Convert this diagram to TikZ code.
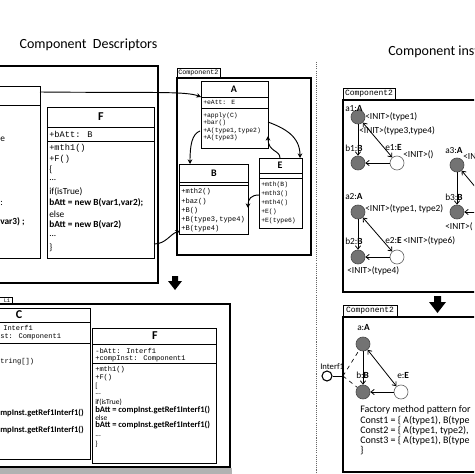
\documentclass[tikz,border=0pt]{standalone}
\usepackage{fontspec}
\setmainfont{Carlito}
\newfontfamily\cmono{Liberation Mono}
\usetikzlibrary{arrows.meta}
\tikzset{
  frame/.style={draw, line width=1pt},
  cbox/.style={draw, line width=0.7pt},
  csep/.style={line width=0.6pt},
  txt/.style={anchor=west, inner sep=0pt},
  monos/.style={txt, font=\cmono\fontsize{4.8}{5}\selectfont},
  monom/.style={txt, font=\cmono\fontsize{5.3}{6}\selectfont},
  monol/.style={txt, font=\cmono\fontsize{6.5}{7}\selectfont},
  tabtxt/.style={inner sep=0pt, font=\cmono\fontsize{5}{5}\selectfont},
  code/.style={txt, font=\fontsize{7}{8}\selectfont},
  codeb/.style={txt, font=\bfseries\fontsize{7}{8}\selectfont},
  codes/.style={txt, font=\fontsize{5.6}{6}\selectfont},
  codesb/.style={txt, font=\bfseries\fontsize{6.4}{7}\selectfont},
  cname/.style={inner sep=0pt, font=\bfseries\fontsize{9}{10}\selectfont},
  cnames/.style={inner sep=0pt, font=\bfseries\fontsize{7.5}{8}\selectfont},
  lab/.style={txt, font=\fontsize{7}{8}\selectfont},
  uarr/.style={line width=0.7pt, -{Stealth[length=3.5pt,width=3.5pt]}},
  garr/.style={line width=0.6pt, -{Straight Barb[length=2.5pt,width=4pt]}},
  gdarr/.style={line width=0.6pt, {Straight Barb[length=2.5pt,width=4pt]}-{Straight Barb[length=2.5pt,width=4pt]}},
  gcirc/.style={circle, draw=black!70, line width=0.5pt, fill=black!55, minimum size=10.5pt, inner sep=0pt},
  wcirc/.style={circle, draw=black!60, line width=0.5pt, fill=white, minimum size=10.5pt, inner sep=0pt},
  blockarr/.style={fill=black},
}
\begin{document}
\begin{tikzpicture}[x=0.75pt,y=-0.75pt]
\useasboundingbox (0,0) rectangle (474,474);
\clip (0,0) rectangle (474,474);
\fill[white] (0,0) rectangle (474,474);

% titles
\node[inner sep=0pt, font=\fontsize{10.5}{12}\selectfont] (t1) at (88.5,45) {Component\ \ Descriptors};
\node[txt, font=\fontsize{10.5}{12}\selectfont] (t2) at (388,52) {Component instances};

% separator
\draw[line width=0.7pt, black!60, dash pattern=on 0.8pt off 0.8pt] (316,62) -- (316,474);

% ================= top-left =================
\draw[frame] (-10,66) rectangle (158,283);
% class C (cut)
\draw[cbox] (-10,86) rectangle (40,258);
\draw[csep] (-10,105) -- (40,105);
\node[code] (c1) at (0,139) {e};
\node[code] (c2) at (0,203) {:};
\node[codeb] (c3) at (0,222) {var3) ;};
% class F
\draw[cbox] (47,107) rectangle (154,258);
\draw[csep] (47,127) -- (154,127);
\draw[csep] (47,141) -- (154,141);
\node[cname] (Fn) at (101,117) {F};
\node[monol] (f1) at (49,134) {+bAtt: B};
\node[monol] (f2) at (49,148) {+mth1()};
\node[monol] (f3) at (49,159) {+F()};
\node[code] (f4) at (49,170) {\{};
\node[code] (f5) at (49,180) {...};
\node[code] (f6) at (49,192) {if(isTrue)};
\node[codeb] (f7) at (49,203) {bAtt = new B(var1,var2);};
\node[code] (f8) at (49,214) {else};
\node[codeb] (f9) at (49,225) {bAtt = new B(var2)};
\node[code] (f10) at (49,236) {...};
\node[code] (f11) at (49,248) {\}};

% ================= top-middle Component2 =================
\draw[cbox] (177,68) rectangle (220,78);
\node[tabtxt] (tab1) at (198.5,73) {Component2};
\draw[frame] (177,78) rectangle (311,255);
% A
\draw[cbox] (201,81) rectangle (268,148);
\draw[csep] (201,97) -- (268,97);
\draw[csep] (201,108) -- (268,108);
\node[cnames] (An) at (234,89) {A};
\node[monos] (a1t) at (203,102) {+eAtt: E};
\node[monos] (a2t) at (203,116) {+apply(C)};
\node[monos] (a3t) at (203,123) {+bar()};
\node[monos] (a4t) at (203,131) {+A(type1,type2)};
\node[monos] (a5t) at (203,138) {+A(type3)};
% B
\draw[cbox] (179,164) rectangle (248,234);
\draw[csep] (179,182) -- (248,182);
\draw[csep] (179,185) -- (248,185);
\node[cnames] (Bn) at (214,173) {B};
\node[monom] (b1t) at (181,192) {+mth2()};
\node[monom] (b2t) at (181,202) {+baz()};
\node[monom] (b3t) at (181,211) {+B()};
\node[monom] (b4t) at (181,220) {+B(type3,type4)};
\node[monom] (b5t) at (181,229) {+B(type4)};
% E
\draw[cbox] (259,158) rectangle (302,228);
\draw[csep] (259,173) -- (302,173);
\draw[csep] (259,178) -- (302,178);
\node[cnames] (En) at (280,165) {E};
\node[monos] (e1t) at (261,185) {+mth(B)};
\node[monos] (e2t) at (261,194) {+mth3()};
\node[monos] (e3t) at (261,203) {+mth4()};
\node[monos] (e4t) at (261,212) {+E()};
\node[monos] (e5t) at (261,221) {+E(type6)};

% connectors
\coordinate (pC) at (40,92);
\coordinate (pAin) at (201,97);
\coordinate (pAl) at (200,131);
\coordinate (pBt) at (190,164);
\coordinate (pAr) at (268,122);
\coordinate (pEt) at (300,158);
\coordinate (pEt2) at (280,158);
\coordinate (pAr2) at (268,136);
\coordinate (pEl) at (259,195);
\coordinate (pBr) at (248,208);
\coordinate (pFr) at (154,244);
\coordinate (pBl) at (180,231);
\draw[uarr] (pC) .. controls (150,93) and (186,91) .. (pAin);
\draw[uarr] (pAl) .. controls (192,134) and (190,145) .. (pBt);
\draw[uarr] (pAr) .. controls (284,128) and (300,136) .. (pEt);
\draw[uarr] (pEt2) .. controls (280,150) and (268,152) .. (pAr2);
\draw[uarr] (pEl) .. controls (251,195) and (248,199) .. (pBr);
\draw[uarr] (pFr) .. controls (166,244) and (170,234) .. (pBl);

% block arrows
\fill[blockarr] (172,276) -- (178,276) -- (178,281) -- (182,281) -- (175,290) -- (168,281) -- (172,281) -- cycle;
\fill[blockarr] (434,296) -- (441,296) -- (441,302) -- (446,302) -- (437.5,313) -- (429,302) -- (434,302) -- cycle;

% ================= bottom-left =================
\fill[black!30] (0,468) rectangle (232,474);
\draw[cbox] (-10,297) rectangle (12,304);
\node[inner sep=0pt, font=\cmono\fontsize{4}{4}\selectfont] (tabL) at (7,300.5) {L1};
\draw[frame] (-10,304) rectangle (230,467);
% C
\draw[cbox] (-10,308) rectangle (90,459);
\draw[csep] (-10,322) -- (90,322);
\draw[csep] (-10,343) -- (90,343);
\node[cname] (Cn) at (19,315) {C};
\node[monom] (cc1) at (3,328) {Interf1};
\node[monom] (cc2) at (0,337) {st: Component1};
\node[monom] (cc3) at (0,362) {tring[])};
\node[codesb] (cc4) at (0,413) {mpInst.getRef1Interf1()};
\node[codesb] (cc5) at (0,430) {mpInst.getRef1Interf1()};
% F
\draw[cbox] (92,328) rectangle (216,463);
\draw[csep] (92,344) -- (216,344);
\draw[csep] (92,363) -- (216,363);
\node[cname] (Fn2) at (155,336) {F};
\node[monom] (g1) at (95,351) {-bAtt: Interf1};
\node[monom] (g2) at (95,359) {+compInst: Component1};
\node[monom] (g3) at (95,370) {+mth1()};
\node[monom] (g4) at (95,378) {+F()};
\node[codes] (g5) at (95,386.5) {[};
\node[codes] (g6) at (95,394.5) {...};
\node[codes] (g7) at (95,402.5) {if(isTrue)};
\node[codesb] (g8) at (95,410) {bAtt = compInst.getRef1Interf1()};
\node[codes] (g9) at (95,417.5) {else};
\node[codesb] (g10) at (95,425) {bAtt = compInst.getRef1Interf1()};
\node[codes] (g11) at (95,436) {...};
\node[codes] (g12) at (95,444) {\}};

% ================= right-top instances =================
\draw[cbox] (343,88) rectangle (395,100);
\node[tabtxt, font=\cmono\fontsize{6}{6}\selectfont] (tab2) at (369,94) {Component2};
\draw[frame] (343,100) rectangle (490,292);

\node[gcirc] (na1) at (358,117) {};
\node[gcirc] (nb1) at (358,163) {};
\node[wcirc] (ne1) at (397,163) {};
\node[gcirc] (na2) at (358,212) {};
\node[gcirc] (nb2) at (358,257) {};
\node[wcirc] (ne2) at (397,257) {};
\node[gcirc] (na3) at (457,165) {};
\node[gcirc] (nb3) at (457,212) {};
\coordinate (ne3) at (496,212);

\node[lab] (l1) at (345,109) {a1:\textbf{A}};
\node[lab] (l2) at (365,117) {<INIT>(type1)};
\node[lab] (l3) at (359,131) {<INIT>(type3,type4)};
\node[lab] (l4) at (345,148) {b1:\textbf{B}};
\node[lab] (l5) at (385,148) {e1:\textbf{E}};
\node[lab] (l6) at (403,155) {<INIT>()};
\node[lab] (l7) at (345,197) {a2:\textbf{A}};
\node[lab] (l8) at (365,209) {<INIT>(type1, type2)};
\node[lab] (l9) at (345,241) {b2:\textbf{B}};
\node[lab] (l10) at (385,241) {e2:\textbf{E}};
\node[lab] (l11) at (403,241) {<INIT>(type6)};
\node[lab] (l12) at (347,271) {<INIT>(type4)};
\node[lab] (l13) at (445,151) {a3:\textbf{A}};
\node[lab] (l14) at (463,157) {<IN};
\node[lab] (l15) at (445,197) {b3:\textbf{B}};
\node[lab] (l16) at (445,227) {<INIT>(};

\draw[garr] (na1) -- (nb1);
\draw[gdarr] (na1) -- (ne1);
\draw[garr] (ne1) -- (nb1);
\draw[garr] (na2) -- (nb2);
\draw[gdarr] (na2) -- (ne2);
\draw[garr] (ne2) -- (nb2);
\draw[garr] (na3) -- (nb3);
\draw[gdarr] (na3) -- (ne3);
\draw[garr] (ne3) -- (nb3);

% ================= right-bottom =================
\draw[cbox] (343,305) rectangle (397,317);
\node[tabtxt, font=\cmono\fontsize{6}{6}\selectfont] (tab3) at (370,311) {Component2};
\draw[frame] (343,317) rectangle (490,472);

\node[gcirc] (ma) at (363,344) {};
\node[gcirc] (mb) at (363,392) {};
\node[wcirc] (me) at (401,392) {};
\node[circle, draw=black, line width=0.8pt, fill=white, minimum size=7.5pt, inner sep=0pt] (mi) at (327,376) {};
\coordinate (mp) at (343,376);
\node[lab] (m1) at (357,328) {a:\textbf{A}};
\node[lab] (m2) at (356,375) {b:\textbf{B}};
\node[lab] (m3) at (397,376) {e:\textbf{E}};
\node[lab, font=\fontsize{6.5}{7}\selectfont] (m4) at (320,367) {Interf1};

\draw[line width=0.6pt] (mi) -- (mp);
\draw[line width=0.5pt, dashed] (mp) -- (ma);
\draw[line width=0.5pt, dashed] (mp) -- (mb);
\draw[garr] (ma) -- (mb);
\draw[gdarr] (ma) -- (me);
\draw[garr] (me) -- (mb);

\node[txt, font=\fontsize{7.5}{8}\selectfont] (k1) at (360,410) {Factory method pattern for};
\node[txt, font=\fontsize{7.5}{8}\selectfont] (k2) at (360,421) {Const1 = \{ A(type1), B(type};
\node[txt, font=\fontsize{7.5}{8}\selectfont] (k3) at (360,431) {Const2 = \{ A(type1, type2),};
\node[txt, font=\fontsize{7.5}{8}\selectfont] (k4) at (360,441) {Const3 = \{ A(type1), B(type};
\node[txt, font=\fontsize{7.5}{8}\selectfont] (k5) at (360,451) {\}};
\end{tikzpicture}
\end{document}
